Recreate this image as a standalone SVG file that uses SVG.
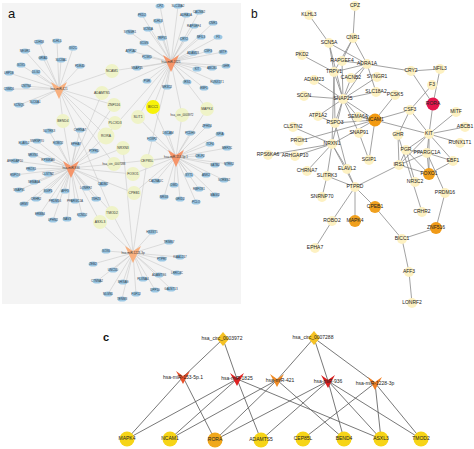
<svg xmlns="http://www.w3.org/2000/svg" width="474" height="449" viewBox="0 0 474 449">
<style>
text{font-family:"Liberation Sans",Arial,sans-serif;}
.pl{font-size:12px;fill:#111;}
.ea{stroke:#c9c9c9;stroke-width:0.6;}
.eb{stroke:#8a8a8a;stroke-width:0.8;}
.ec{stroke:#555;stroke-width:0.8;}
.bn{fill:#9cc7e3;}
.bl{font-size:3px;fill:#2b3a4a;text-anchor:middle;dominant-baseline:middle;}
.gn{fill:#eff3c8;}
.gl{font-size:3.4px;fill:#333;text-anchor:middle;dominant-baseline:middle;}
.hub{fill:#f5956a;}
.hl{font-size:3px;fill:#333;text-anchor:middle;dominant-baseline:middle;}
.nb{fill:#fdf1c2;}
.lb{font-size:5px;fill:#222;text-anchor:middle;dominant-baseline:middle;}
.nc{fill:#f6d417;}
.lc{font-size:5px;fill:#222;text-anchor:middle;dominant-baseline:middle;}
</style>
<defs>
<polygon id="vA" points="-8,-7 0,-2 8,-7 0,10"/>
<polygon id="vC" points="-7,-6 0,-1 7,-6 0,7"/>
<polygon id="dC" points="0,-7 6,0 0,7 -6,0"/>
</defs>
<rect width="474" height="449" fill="#fff"/>
<!-- PANEL A -->
<rect x="2" y="3" width="239" height="301" fill="#f4f4f4"/>
<text class="pl" x="8" y="18" style="font-size:13px">a</text>
<g id="edges-a">
<!-- H1 -->
<line class="ea" x1="171" y1="62" x2="160" y2="6"/><line class="ea" x1="171" y1="62" x2="178" y2="6"/><line class="ea" x1="171" y1="62" x2="142" y2="15"/><line class="ea" x1="171" y1="62" x2="186" y2="15"/><line class="ea" x1="171" y1="62" x2="199" y2="12"/><line class="ea" x1="171" y1="62" x2="158" y2="21"/><line class="ea" x1="171" y1="62" x2="148" y2="29"/><line class="ea" x1="171" y1="62" x2="194" y2="26"/><line class="ea" x1="171" y1="62" x2="213" y2="23"/><line class="ea" x1="171" y1="62" x2="130" y2="32"/><line class="ea" x1="171" y1="62" x2="162" y2="38"/><line class="ea" x1="171" y1="62" x2="184" y2="39"/><line class="ea" x1="171" y1="62" x2="201" y2="37"/><line class="ea" x1="171" y1="62" x2="218" y2="37"/><line class="ea" x1="171" y1="62" x2="144" y2="43"/><line class="ea" x1="171" y1="62" x2="131" y2="51"/><line class="ea" x1="171" y1="62" x2="147" y2="57"/><line class="ea" x1="171" y1="62" x2="193" y2="53"/><line class="ea" x1="171" y1="62" x2="208" y2="51"/><line class="ea" x1="171" y1="62" x2="223" y2="52"/><line class="ea" x1="171" y1="62" x2="137" y2="68"/><line class="ea" x1="171" y1="62" x2="197" y2="69"/><line class="ea" x1="171" y1="62" x2="212" y2="68"/><line class="ea" x1="171" y1="62" x2="226" y2="66"/><line class="ea" x1="171" y1="62" x2="147" y2="81"/><line class="ea" x1="171" y1="62" x2="187" y2="82"/><line class="ea" x1="171" y1="62" x2="204" y2="88"/><line class="ea" x1="171" y1="62" x2="217" y2="82"/><line class="ea" x1="171" y1="62" x2="167" y2="87"/>
<!-- H2 -->
<line class="ea" x1="59" y1="89" x2="39" y2="42"/><line class="ea" x1="59" y1="89" x2="57" y2="41"/><line class="ea" x1="59" y1="89" x2="73" y2="48"/><line class="ea" x1="59" y1="89" x2="25" y2="51"/><line class="ea" x1="59" y1="89" x2="43" y2="58"/><line class="ea" x1="59" y1="89" x2="61" y2="60"/><line class="ea" x1="59" y1="89" x2="21" y2="65"/><line class="ea" x1="59" y1="89" x2="36" y2="72"/><line class="ea" x1="59" y1="89" x2="80" y2="66"/><line class="ea" x1="59" y1="89" x2="9" y2="73"/><line class="ea" x1="59" y1="89" x2="26" y2="86"/><line class="ea" x1="59" y1="89" x2="9" y2="89"/><line class="ea" x1="59" y1="89" x2="35" y2="102"/><line class="ea" x1="59" y1="89" x2="19" y2="105"/>
<!-- H3 -->
<line class="ea" x1="71" y1="168" x2="49" y2="131"/><line class="ea" x1="71" y1="168" x2="80" y2="130"/><line class="ea" x1="71" y1="168" x2="24" y2="143"/><line class="ea" x1="71" y1="168" x2="37" y2="141"/><line class="ea" x1="71" y1="168" x2="58" y2="143"/><line class="ea" x1="71" y1="168" x2="76" y2="144"/><line class="ea" x1="71" y1="168" x2="94" y2="151"/><line class="ea" x1="71" y1="168" x2="33" y2="155"/><line class="ea" x1="71" y1="168" x2="48" y2="160"/><line class="ea" x1="71" y1="168" x2="15" y2="161"/><line class="ea" x1="71" y1="168" x2="31" y2="169"/><line class="ea" x1="71" y1="168" x2="48" y2="174"/><line class="ea" x1="71" y1="168" x2="15" y2="175"/><line class="ea" x1="71" y1="168" x2="34" y2="182"/><line class="ea" x1="71" y1="168" x2="19" y2="190"/><line class="ea" x1="71" y1="168" x2="48" y2="191"/><line class="ea" x1="71" y1="168" x2="65" y2="191"/><line class="ea" x1="71" y1="168" x2="86" y2="188"/><line class="ea" x1="71" y1="168" x2="36" y2="199"/><line class="ea" x1="71" y1="168" x2="55" y2="201"/><line class="ea" x1="71" y1="168" x2="75" y2="201"/><line class="ea" x1="71" y1="168" x2="96" y2="199"/><line class="ea" x1="71" y1="168" x2="24" y2="204"/><line class="ea" x1="71" y1="168" x2="103" y2="184"/><line class="ea" x1="71" y1="168" x2="40" y2="214"/><line class="ea" x1="71" y1="168" x2="53" y2="220"/><line class="ea" x1="71" y1="168" x2="67" y2="219"/><line class="ea" x1="71" y1="168" x2="82" y2="215"/>
<!-- H4 -->
<line class="ea" x1="176" y1="157" x2="152" y2="139"/><line class="ea" x1="176" y1="157" x2="168" y2="133"/><line class="ea" x1="176" y1="157" x2="190" y2="133"/><line class="ea" x1="176" y1="157" x2="207" y2="126"/><line class="ea" x1="176" y1="157" x2="220" y2="134"/><line class="ea" x1="176" y1="157" x2="210" y2="144"/><line class="ea" x1="176" y1="157" x2="227" y2="148"/><line class="ea" x1="176" y1="157" x2="200" y2="156"/><line class="ea" x1="176" y1="157" x2="215" y2="165"/><line class="ea" x1="176" y1="157" x2="229" y2="164"/><line class="ea" x1="176" y1="157" x2="189" y2="175"/><line class="ea" x1="176" y1="157" x2="206" y2="175"/><line class="ea" x1="176" y1="157" x2="224" y2="180"/><line class="ea" x1="176" y1="157" x2="156" y2="181"/><line class="ea" x1="176" y1="157" x2="174" y2="185"/><line class="ea" x1="176" y1="157" x2="199" y2="189"/><line class="ea" x1="176" y1="157" x2="164" y2="197"/><line class="ea" x1="176" y1="157" x2="180" y2="199"/><line class="ea" x1="176" y1="157" x2="196" y2="202"/><line class="ea" x1="176" y1="157" x2="215" y2="195"/>
<!-- H5 -->
<line class="ea" x1="133" y1="253" x2="152" y2="232"/><line class="ea" x1="133" y1="253" x2="169" y2="242"/><line class="ea" x1="133" y1="253" x2="106" y2="251"/><line class="ea" x1="133" y1="253" x2="162" y2="259"/><line class="ea" x1="133" y1="253" x2="180" y2="257"/><line class="ea" x1="133" y1="253" x2="93" y2="264"/><line class="ea" x1="133" y1="253" x2="113" y2="270"/><line class="ea" x1="133" y1="253" x2="159" y2="275"/><line class="ea" x1="133" y1="253" x2="177" y2="273"/><line class="ea" x1="133" y1="253" x2="97" y2="281"/><line class="ea" x1="133" y1="253" x2="123" y2="282"/><line class="ea" x1="133" y1="253" x2="143" y2="279"/><line class="ea" x1="133" y1="253" x2="155" y2="290"/><line class="ea" x1="133" y1="253" x2="108" y2="294"/><line class="ea" x1="133" y1="253" x2="136" y2="294"/><line class="ea" x1="133" y1="253" x2="171" y2="289"/><line class="ea" x1="133" y1="253" x2="122" y2="299"/>
<!-- hub to target genes -->
<line class="ea" x1="171" y1="62" x2="112" y2="71"/><line class="ea" x1="171" y1="62" x2="102" y2="93"/><line class="ea" x1="171" y1="62" x2="138" y2="117"/><line class="ea" x1="171" y1="62" x2="153" y2="107"/><line class="ea" x1="171" y1="62" x2="207" y2="109"/><line class="ea" x1="171" y1="62" x2="106" y2="136"/><line class="ea" x1="171" y1="62" x2="182" y2="115"/><line class="ea" x1="171" y1="62" x2="147" y2="161"/>
<line class="ea" x1="59" y1="89" x2="112" y2="71"/><line class="ea" x1="59" y1="89" x2="63" y2="121"/><line class="ea" x1="59" y1="89" x2="106" y2="136"/><line class="ea" x1="59" y1="89" x2="115" y2="123"/><line class="ea" x1="59" y1="89" x2="114" y2="105"/><line class="ea" x1="59" y1="89" x2="112" y2="213"/><line class="ea" x1="59" y1="89" x2="114" y2="164"/>
<line class="ea" x1="71" y1="168" x2="106" y2="136"/><line class="ea" x1="71" y1="168" x2="123" y2="148"/><line class="ea" x1="71" y1="168" x2="114" y2="164"/><line class="ea" x1="71" y1="168" x2="133" y2="174"/><line class="ea" x1="71" y1="168" x2="134" y2="193"/><line class="ea" x1="71" y1="168" x2="112" y2="213"/><line class="ea" x1="71" y1="168" x2="100" y2="222"/><line class="ea" x1="71" y1="168" x2="102" y2="93"/><line class="ea" x1="71" y1="168" x2="63" y2="121"/><line class="ea" x1="71" y1="168" x2="114" y2="105"/>
<line class="ea" x1="176" y1="157" x2="147" y2="161"/><line class="ea" x1="176" y1="157" x2="133" y2="174"/><line class="ea" x1="176" y1="157" x2="134" y2="193"/><line class="ea" x1="176" y1="157" x2="114" y2="164"/><line class="ea" x1="176" y1="157" x2="182" y2="115"/><line class="ea" x1="176" y1="157" x2="153" y2="107"/><line class="ea" x1="176" y1="157" x2="207" y2="109"/><line class="ea" x1="176" y1="157" x2="138" y2="117"/>
<line class="ea" x1="133" y1="253" x2="100" y2="222"/><line class="ea" x1="133" y1="253" x2="112" y2="213"/><line class="ea" x1="133" y1="253" x2="147" y2="161"/><line class="ea" x1="133" y1="253" x2="123" y2="148"/>
</g>
<g id="nodes-a-targets">
<g id="a-NCAM1"><circle class="gn" cx="112" cy="71" r="7"/><text class="gl" x="112" y="71">NCAM1</text></g>
<g id="a-ADAMTS5"><circle class="gn" cx="102" cy="93" r="7"/><text class="gl" x="102" y="93">ADAMTS5</text></g>
<g id="a-ZNF516"><circle class="gn" cx="114" cy="105" r="7"/><text class="gl" x="114" y="105">ZNF516</text></g>
<g id="a-BICC1"><circle cx="153" cy="107" r="7" fill="#f7f20a"/><text class="gl" x="153" y="107">BICC1</text></g>
<g id="a-BEND4"><circle class="gn" cx="63" cy="121" r="7"/><text class="gl" x="63" y="121">BEND4</text></g>
<g id="a-PLCXD3"><circle class="gn" cx="115" cy="123" r="7"/><text class="gl" x="115" y="123">PLCXD3</text></g>
<g id="a-SLIT1"><circle class="gn" cx="138" cy="117" r="7"/><text class="gl" x="138" y="117">SLIT1</text></g>
<g id="a-circ3972"><circle class="gn" cx="182" cy="115" r="7"/><text class="gl" x="182" y="115" style="font-size:2.8px">hsa_circ_0003972</text></g>
<g id="a-MAPK4"><circle class="gn" cx="207" cy="109" r="7"/><text class="gl" x="207" y="109">MAPK4</text></g>
<g id="a-RORA"><circle class="gn" cx="106" cy="136" r="8.5"/><text class="gl" x="106" y="136">RORA</text></g>
<g id="a-NRXN3"><circle class="gn" cx="123" cy="148" r="7"/><text class="gl" x="123" y="148">NRXN3</text></g>
<g id="a-circ7288"><circle class="gn" cx="114" cy="164" r="7"/><text class="gl" x="114" y="164" style="font-size:2.8px">hsa_circ_0007288</text></g>
<g id="a-CEP85L"><circle class="gn" cx="147" cy="161" r="7"/><text class="gl" x="147" y="161">CEP85L</text></g>
<g id="a-FOXO1"><circle class="gn" cx="133" cy="174" r="7"/><text class="gl" x="133" y="174">FOXO1</text></g>
<g id="a-CPEB1"><circle class="gn" cx="134" cy="193" r="7"/><text class="gl" x="134" y="193">CPEB1</text></g>
<g id="a-TMOD2"><circle class="gn" cx="112" cy="213" r="7"/><text class="gl" x="112" y="213">TMOD2</text></g>
<g id="a-ASXL3"><circle class="gn" cx="100" cy="222" r="7"/><text class="gl" x="100" y="222">ASXL3</text></g>
</g>
<g id="nodes-a-genes">
<g id="a1"><ellipse class="bn" cx="160" cy="6" rx="4.5" ry="2.6"/><text class="bl" x="160" y="6">CPZ</text></g>
<g id="a2"><ellipse class="bn" cx="178" cy="6" rx="4.5" ry="2.6"/><text class="bl" x="178" y="6">SLC18A2</text></g>
<g id="a3"><ellipse class="bn" cx="142" cy="15" rx="4.5" ry="2.6"/><text class="bl" x="142" y="15">PKD2</text></g>
<g id="a4"><ellipse class="bn" cx="186" cy="15" rx="4.5" ry="2.6"/><text class="bl" x="186" y="15">ADRA1A</text></g>
<g id="a5"><ellipse class="bn" cx="199" cy="12" rx="4.5" ry="2.6"/><text class="bl" x="199" y="12">CACNB2</text></g>
<g id="a6"><ellipse class="bn" cx="158" cy="21" rx="4.5" ry="2.6"/><text class="bl" x="158" y="21">KLHL3</text></g>
<g id="a7"><ellipse class="bn" cx="148" cy="29" rx="4.5" ry="2.6"/><text class="bl" x="148" y="29">SCN5A</text></g>
<g id="a8"><ellipse class="bn" cx="194" cy="26" rx="4.5" ry="2.6"/><text class="bl" x="194" y="26">RAPGEF4</text></g>
<g id="a9"><ellipse class="bn" cx="213" cy="23" rx="4.5" ry="2.6"/><text class="bl" x="213" y="23">CNR1</text></g>
<g id="a10"><ellipse class="bn" cx="130" cy="32" rx="4.5" ry="2.6"/><text class="bl" x="130" y="32">SYNGR1</text></g>
<g id="a11"><ellipse class="bn" cx="162" cy="38" rx="4.5" ry="2.6"/><text class="bl" x="162" y="38">TRPV1</text></g>
<g id="a12"><ellipse class="bn" cx="184" cy="39" rx="4.5" ry="2.6"/><text class="bl" x="184" y="39">CRY2</text></g>
<g id="a13"><ellipse class="bn" cx="201" cy="37" rx="4.5" ry="2.6"/><text class="bl" x="201" y="37">NFIL3</text></g>
<g id="a14"><ellipse class="bn" cx="218" cy="37" rx="4.5" ry="2.6"/><text class="bl" x="218" y="37">F3</text></g>
<g id="a15"><ellipse class="bn" cx="144" cy="43" rx="4.5" ry="2.6"/><text class="bl" x="144" y="43">SCGN</text></g>
<g id="a16"><ellipse class="bn" cx="131" cy="51" rx="4.5" ry="2.6"/><text class="bl" x="131" y="51">ATP1A2</text></g>
<g id="a17"><ellipse class="bn" cx="147" cy="57" rx="4.5" ry="2.6"/><text class="bl" x="147" y="57">PCSK5</text></g>
<g id="a18"><ellipse class="bn" cx="193" cy="53" rx="4.5" ry="2.6"/><text class="bl" x="193" y="53">ADAM23</text></g>
<g id="a19"><ellipse class="bn" cx="208" cy="51" rx="4.5" ry="2.6"/><text class="bl" x="208" y="51">CSF3</text></g>
<g id="a20"><ellipse class="bn" cx="223" cy="52" rx="4.5" ry="2.6"/><text class="bl" x="223" y="52">MITF</text></g>
<g id="a21"><ellipse class="bn" cx="137" cy="68" rx="4.5" ry="2.6"/><text class="bl" x="137" y="68">SNAP25</text></g>
<g id="a22"><ellipse class="bn" cx="197" cy="69" rx="4.5" ry="2.6"/><text class="bl" x="197" y="69">KIT</text></g>
<g id="a23"><ellipse class="bn" cx="212" cy="68" rx="4.5" ry="2.6"/><text class="bl" x="212" y="68">ABCB1</text></g>
<g id="a24"><ellipse class="bn" cx="226" cy="66" rx="4.5" ry="2.6"/><text class="bl" x="226" y="66">GHR</text></g>
<g id="a25"><ellipse class="bn" cx="147" cy="81" rx="4.5" ry="2.6"/><text class="bl" x="147" y="81">PGR</text></g>
<g id="a26"><ellipse class="bn" cx="187" cy="82" rx="4.5" ry="2.6"/><text class="bl" x="187" y="82">IRS1</text></g>
<g id="a27"><ellipse class="bn" cx="204" cy="88" rx="4.5" ry="2.6"/><text class="bl" x="204" y="88">EBF1</text></g>
<g id="a28"><ellipse class="bn" cx="217" cy="82" rx="4.5" ry="2.6"/><text class="bl" x="217" y="82">RUNX1T1</text></g>
<g id="a29"><ellipse class="bn" cx="167" cy="87" rx="4.5" ry="2.6"/><text class="bl" x="167" y="87">NR3C2</text></g>
<g id="a30"><ellipse class="bn" cx="39" cy="42" rx="4.5" ry="2.6"/><text class="bl" x="39" y="42">CDH18</text></g>
<g id="a31"><ellipse class="bn" cx="57" cy="41" rx="4.5" ry="2.6"/><text class="bl" x="57" y="41">KLHL1</text></g>
<g id="a32"><ellipse class="bn" cx="73" cy="48" rx="4.5" ry="2.6"/><text class="bl" x="73" y="48">SV2C</text></g>
<g id="a33"><ellipse class="bn" cx="25" cy="51" rx="4.5" ry="2.6"/><text class="bl" x="25" y="51">NEGR1</text></g>
<g id="a34"><ellipse class="bn" cx="43" cy="58" rx="4.5" ry="2.6"/><text class="bl" x="43" y="58">GRIA1</text></g>
<g id="a35"><ellipse class="bn" cx="61" cy="60" rx="4.5" ry="2.6"/><text class="bl" x="61" y="60">SLC8A1</text></g>
<g id="a36"><ellipse class="bn" cx="21" cy="65" rx="4.5" ry="2.6"/><text class="bl" x="21" y="65">SOX5</text></g>
<g id="a37"><ellipse class="bn" cx="36" cy="72" rx="4.5" ry="2.6"/><text class="bl" x="36" y="72">DLG2</text></g>
<g id="a38"><ellipse class="bn" cx="80" cy="66" rx="4.5" ry="2.6"/><text class="bl" x="80" y="66">PDE4D</text></g>
<g id="a39"><ellipse class="bn" cx="9" cy="73" rx="4.5" ry="2.6"/><text class="bl" x="9" y="73">LRP1B</text></g>
<g id="a40"><ellipse class="bn" cx="26" cy="86" rx="4.5" ry="2.6"/><text class="bl" x="26" y="86">CNTN4</text></g>
<g id="a41"><ellipse class="bn" cx="9" cy="89" rx="4.5" ry="2.6"/><text class="bl" x="9" y="89">CSMD1</text></g>
<g id="a42"><ellipse class="bn" cx="35" cy="102" rx="4.5" ry="2.6"/><text class="bl" x="35" y="102">SLC6A1</text></g>
<g id="a43"><ellipse class="bn" cx="19" cy="105" rx="4.5" ry="2.6"/><text class="bl" x="19" y="105">KCNQ5</text></g>
<g id="a44"><ellipse class="bn" cx="49" cy="131" rx="4.5" ry="2.6"/><text class="bl" x="49" y="131">SLITRK3</text></g>
<g id="a45"><ellipse class="bn" cx="80" cy="130" rx="4.5" ry="2.6"/><text class="bl" x="80" y="130">CHRNA7</text></g>
<g id="a46"><ellipse class="bn" cx="24" cy="143" rx="4.5" ry="2.6"/><text class="bl" x="24" y="143">ELAVL2</text></g>
<g id="a47"><ellipse class="bn" cx="37" cy="141" rx="4.5" ry="2.6"/><text class="bl" x="37" y="141">SNRNP70</text></g>
<g id="a48"><ellipse class="bn" cx="58" cy="143" rx="4.5" ry="2.6"/><text class="bl" x="58" y="143">ROBO2</text></g>
<g id="a49"><ellipse class="bn" cx="76" cy="144" rx="4.5" ry="2.6"/><text class="bl" x="76" y="144">EPHA7</text></g>
<g id="a50"><ellipse class="bn" cx="94" cy="151" rx="4.5" ry="2.6"/><text class="bl" x="94" y="151">PTPRD</text></g>
<g id="a51"><ellipse class="bn" cx="33" cy="155" rx="4.5" ry="2.6"/><text class="bl" x="33" y="155">NRXN1</text></g>
<g id="a52"><ellipse class="bn" cx="48" cy="160" rx="4.5" ry="2.6"/><text class="bl" x="48" y="160">RPS6KA6</text></g>
<g id="a53"><ellipse class="bn" cx="15" cy="161" rx="4.5" ry="2.6"/><text class="bl" x="15" y="161">ARHGAP10</text></g>
<g id="a54"><ellipse class="bn" cx="31" cy="169" rx="4.5" ry="2.6"/><text class="bl" x="31" y="169">PROX1</text></g>
<g id="a55"><ellipse class="bn" cx="48" cy="174" rx="4.5" ry="2.6"/><text class="bl" x="48" y="174">CLSTN2</text></g>
<g id="a56"><ellipse class="bn" cx="15" cy="175" rx="4.5" ry="2.6"/><text class="bl" x="15" y="175">RSPO3</text></g>
<g id="a57"><ellipse class="bn" cx="34" cy="182" rx="4.5" ry="2.6"/><text class="bl" x="34" y="182">SEMA6A</text></g>
<g id="a58"><ellipse class="bn" cx="19" cy="190" rx="4.5" ry="2.6"/><text class="bl" x="19" y="190">SNAP91</text></g>
<g id="a59"><ellipse class="bn" cx="48" cy="191" rx="4.5" ry="2.6"/><text class="bl" x="48" y="191">SGIP1</text></g>
<g id="a60"><ellipse class="bn" cx="65" cy="191" rx="4.5" ry="2.6"/><text class="bl" x="65" y="191">AFF3</text></g>
<g id="a61"><ellipse class="bn" cx="86" cy="188" rx="4.5" ry="2.6"/><text class="bl" x="86" y="188">LONRF2</text></g>
<g id="a62"><ellipse class="bn" cx="36" cy="199" rx="4.5" ry="2.6"/><text class="bl" x="36" y="199">CRHR2</text></g>
<g id="a63"><ellipse class="bn" cx="55" cy="201" rx="4.5" ry="2.6"/><text class="bl" x="55" y="201">PRDM16</text></g>
<g id="a64"><ellipse class="bn" cx="75" cy="201" rx="4.5" ry="2.6"/><text class="bl" x="75" y="201">PPARGC1A</text></g>
<g id="a65"><ellipse class="bn" cx="96" cy="199" rx="4.5" ry="2.6"/><text class="bl" x="96" y="199">TSHZ3</text></g>
<g id="a66"><ellipse class="bn" cx="24" cy="204" rx="4.5" ry="2.6"/><text class="bl" x="24" y="204">GRM7</text></g>
<g id="a67"><ellipse class="bn" cx="103" cy="184" rx="4.5" ry="2.6"/><text class="bl" x="103" y="184">CADM2</text></g>
<g id="a68"><ellipse class="bn" cx="40" cy="214" rx="4.5" ry="2.6"/><text class="bl" x="40" y="214">ERBB4</text></g>
<g id="a69"><ellipse class="bn" cx="53" cy="220" rx="4.5" ry="2.6"/><text class="bl" x="53" y="220">LPHN2</text></g>
<g id="a70"><ellipse class="bn" cx="67" cy="219" rx="4.5" ry="2.6"/><text class="bl" x="67" y="219">NAV3</text></g>
<g id="a71"><ellipse class="bn" cx="82" cy="215" rx="4.5" ry="2.6"/><text class="bl" x="82" y="215">KCND2</text></g>
<g id="a72"><ellipse class="bn" cx="152" cy="139" rx="4.5" ry="2.6"/><text class="bl" x="152" y="139">FOXP2</text></g>
<g id="a73"><ellipse class="bn" cx="168" cy="133" rx="4.5" ry="2.6"/><text class="bl" x="168" y="133">DSCAM</text></g>
<g id="a74"><ellipse class="bn" cx="190" cy="133" rx="4.5" ry="2.6"/><text class="bl" x="190" y="133">PCDH9</text></g>
<g id="a75"><ellipse class="bn" cx="207" cy="126" rx="4.5" ry="2.6"/><text class="bl" x="207" y="126">ZFHX4</text></g>
<g id="a76"><ellipse class="bn" cx="220" cy="134" rx="4.5" ry="2.6"/><text class="bl" x="220" y="134">NFIA</text></g>
<g id="a77"><ellipse class="bn" cx="210" cy="144" rx="4.5" ry="2.6"/><text class="bl" x="210" y="144">TCF4</text></g>
<g id="a78"><ellipse class="bn" cx="227" cy="148" rx="4.5" ry="2.6"/><text class="bl" x="227" y="148">MEF2C</text></g>
<g id="a79"><ellipse class="bn" cx="200" cy="156" rx="4.5" ry="2.6"/><text class="bl" x="200" y="156">CELF2</text></g>
<g id="a80"><ellipse class="bn" cx="215" cy="165" rx="4.5" ry="2.6"/><text class="bl" x="215" y="165">SATB2</text></g>
<g id="a81"><ellipse class="bn" cx="229" cy="164" rx="4.5" ry="2.6"/><text class="bl" x="229" y="164">NTRK2</text></g>
<g id="a82"><ellipse class="bn" cx="189" cy="175" rx="4.5" ry="2.6"/><text class="bl" x="189" y="175">SYT1</text></g>
<g id="a83"><ellipse class="bn" cx="206" cy="175" rx="4.5" ry="2.6"/><text class="bl" x="206" y="175">ANK2</text></g>
<g id="a84"><ellipse class="bn" cx="224" cy="180" rx="4.5" ry="2.6"/><text class="bl" x="224" y="180">SORBS2</text></g>
<g id="a85"><ellipse class="bn" cx="156" cy="181" rx="4.5" ry="2.6"/><text class="bl" x="156" y="181">CACNA1C</text></g>
<g id="a86"><ellipse class="bn" cx="174" cy="185" rx="4.5" ry="2.6"/><text class="bl" x="174" y="185">DMD</text></g>
<g id="a87"><ellipse class="bn" cx="199" cy="189" rx="4.5" ry="2.6"/><text class="bl" x="199" y="189">RBFOX1</text></g>
<g id="a88"><ellipse class="bn" cx="164" cy="197" rx="4.5" ry="2.6"/><text class="bl" x="164" y="197">NRG3</text></g>
<g id="a89"><ellipse class="bn" cx="180" cy="199" rx="4.5" ry="2.6"/><text class="bl" x="180" y="199">GRID2</text></g>
<g id="a90"><ellipse class="bn" cx="196" cy="202" rx="4.5" ry="2.6"/><text class="bl" x="196" y="202">PCLO</text></g>
<g id="a91"><ellipse class="bn" cx="215" cy="195" rx="4.5" ry="2.6"/><text class="bl" x="215" y="195">MAGI2</text></g>
<g id="a92"><ellipse class="bn" cx="152" cy="232" rx="4.5" ry="2.6"/><text class="bl" x="152" y="232">HS3ST5</text></g>
<g id="a93"><ellipse class="bn" cx="169" cy="242" rx="4.5" ry="2.6"/><text class="bl" x="169" y="242">TRIM67</text></g>
<g id="a94"><ellipse class="bn" cx="106" cy="251" rx="4.5" ry="2.6"/><text class="bl" x="106" y="251">SOX6</text></g>
<g id="a95"><ellipse class="bn" cx="162" cy="259" rx="4.5" ry="2.6"/><text class="bl" x="162" y="259">PTPRT</text></g>
<g id="a96"><ellipse class="bn" cx="180" cy="257" rx="4.5" ry="2.6"/><text class="bl" x="180" y="257">KIAA1217</text></g>
<g id="a97"><ellipse class="bn" cx="93" cy="264" rx="4.5" ry="2.6"/><text class="bl" x="93" y="264">ZEB2</text></g>
<g id="a98"><ellipse class="bn" cx="113" cy="270" rx="4.5" ry="2.6"/><text class="bl" x="113" y="270">UNC5D</text></g>
<g id="a99"><ellipse class="bn" cx="159" cy="275" rx="4.5" ry="2.6"/><text class="bl" x="159" y="275">ADAMTS6</text></g>
<g id="a100"><ellipse class="bn" cx="177" cy="273" rx="4.5" ry="2.6"/><text class="bl" x="177" y="273">LRRC4C</text></g>
<g id="a101"><ellipse class="bn" cx="97" cy="281" rx="4.5" ry="2.6"/><text class="bl" x="97" y="281">CTNNA2</text></g>
<g id="a102"><ellipse class="bn" cx="123" cy="282" rx="4.5" ry="2.6"/><text class="bl" x="123" y="282">SHISA9</text></g>
<g id="a103"><ellipse class="bn" cx="143" cy="279" rx="4.5" ry="2.6"/><text class="bl" x="143" y="279">PLXNA4</text></g>
<g id="a104"><ellipse class="bn" cx="155" cy="290" rx="4.5" ry="2.6"/><text class="bl" x="155" y="290">DPP10</text></g>
<g id="a105"><ellipse class="bn" cx="108" cy="294" rx="4.5" ry="2.6"/><text class="bl" x="108" y="294">NLGN1</text></g>
<g id="a106"><ellipse class="bn" cx="136" cy="294" rx="4.5" ry="2.6"/><text class="bl" x="136" y="294">FGF12</text></g>
<g id="a107"><ellipse class="bn" cx="171" cy="289" rx="4.5" ry="2.6"/><text class="bl" x="171" y="289">GALNT13</text></g>
<g id="a108"><ellipse class="bn" cx="122" cy="299" rx="4.5" ry="2.6"/><text class="bl" x="122" y="299">TENM3</text></g>
</g>
<g id="nodes-a-hubs">
<g id="a-h1"><use href="#vA" class="hub" x="171" y="62"/><text class="hl" x="171" y="62">hsa-miR-1825</text></g>
<g id="a-h2"><use href="#vA" class="hub" x="59" y="89" style="fill:#f8b07f"/><text class="hl" x="59" y="89">hsa-miR-421</text></g>
<g id="a-h3"><use href="#vA" class="hub" x="71" y="168"/><text class="hl" x="71" y="168">hsa-miR-936</text></g>
<g id="a-h4"><use href="#vA" class="hub" x="176" y="157"/><text class="hl" x="176" y="157">hsa-miR-153-5p.1</text></g>
<g id="a-h5"><use href="#vA" class="hub" x="133" y="253" style="fill:#f8b07f"/><text class="hl" x="133" y="253">hsa-miR-1228-3p</text></g>
</g>

<!-- PANEL B -->
<text class="pl" x="251" y="18">b</text>
<g id="edges-b">
<line class="eb" x1="355" y1="6" x2="353" y2="38"/><line class="eb" x1="309" y1="15" x2="329" y2="43"/><line class="eb" x1="353" y1="38" x2="342" y2="61"/><line class="eb" x1="353" y1="38" x2="367" y2="64"/><line class="eb" x1="353" y1="38" x2="334" y2="72"/><line class="eb" x1="329" y1="43" x2="334" y2="72"/><line class="eb" x1="329" y1="43" x2="367" y2="64"/><line class="eb" x1="329" y1="43" x2="343" y2="99"/><line class="eb" x1="302" y1="55" x2="334" y2="72"/><line class="eb" x1="342" y1="61" x2="367" y2="64"/><line class="eb" x1="342" y1="61" x2="343" y2="99"/><line class="eb" x1="367" y1="64" x2="334" y2="72"/><line class="eb" x1="367" y1="64" x2="351" y2="78"/><line class="eb" x1="367" y1="64" x2="411" y2="71"/><line class="eb" x1="367" y1="64" x2="343" y2="99"/><line class="eb" x1="367" y1="64" x2="376" y2="92"/><line class="eb" x1="411" y1="71" x2="440" y2="69"/><line class="eb" x1="411" y1="71" x2="433" y2="104"/><line class="eb" x1="440" y1="69" x2="433" y2="104"/><line class="eb" x1="334" y1="72" x2="343" y2="99"/><line class="eb" x1="334" y1="72" x2="335" y2="123"/><line class="eb" x1="334" y1="72" x2="332" y2="144"/><line class="eb" x1="314" y1="80" x2="343" y2="99"/><line class="eb" x1="351" y1="78" x2="343" y2="99"/><line class="eb" x1="377" y1="77" x2="343" y2="99"/><line class="eb" x1="376" y1="92" x2="343" y2="99"/><line class="eb" x1="304" y1="96" x2="343" y2="99"/><line class="eb" x1="343" y1="99" x2="318" y2="116"/><line class="eb" x1="343" y1="99" x2="335" y2="123"/><line class="eb" x1="343" y1="99" x2="332" y2="144"/><line class="eb" x1="343" y1="99" x2="358" y2="117"/><line class="eb" x1="343" y1="99" x2="359" y2="133"/><line class="eb" x1="343" y1="99" x2="375" y2="120"/><line class="eb" x1="395" y1="95" x2="375" y2="120"/><line class="eb" x1="432" y1="85" x2="410" y2="110"/><line class="eb" x1="410" y1="110" x2="375" y2="120"/><line class="eb" x1="410" y1="110" x2="429" y2="134"/><line class="eb" x1="410" y1="110" x2="398" y2="135"/><line class="eb" x1="433" y1="104" x2="429" y2="134"/><line class="eb" x1="456" y1="112" x2="429" y2="134"/><line class="eb" x1="465" y1="127" x2="429" y2="134"/><line class="eb" x1="460" y1="143" x2="429" y2="134"/><line class="eb" x1="375" y1="120" x2="429" y2="134"/><line class="eb" x1="375" y1="120" x2="335" y2="123"/><line class="eb" x1="375" y1="120" x2="358" y2="117"/><line class="eb" x1="375" y1="120" x2="369" y2="160"/><line class="eb" x1="375" y1="120" x2="332" y2="144"/><line class="eb" x1="375" y1="120" x2="299" y2="141"/><line class="eb" x1="318" y1="116" x2="335" y2="123"/><line class="eb" x1="293" y1="127" x2="332" y2="144"/><line class="eb" x1="335" y1="123" x2="347" y2="169"/><line class="eb" x1="359" y1="133" x2="369" y2="160"/><line class="eb" x1="332" y1="144" x2="268" y2="155"/><line class="eb" x1="332" y1="144" x2="295" y2="156"/><line class="eb" x1="332" y1="144" x2="307" y2="171"/><line class="eb" x1="332" y1="144" x2="327" y2="176"/><line class="eb" x1="332" y1="144" x2="347" y2="169"/><line class="eb" x1="332" y1="144" x2="355" y2="187"/><line class="eb" x1="398" y1="135" x2="399" y2="165"/><line class="eb" x1="429" y1="134" x2="406" y2="150"/><line class="eb" x1="429" y1="134" x2="427" y2="153"/><line class="eb" x1="429" y1="134" x2="429" y2="174"/><line class="eb" x1="429" y1="134" x2="453" y2="161"/><line class="eb" x1="429" y1="134" x2="399" y2="165"/><line class="eb" x1="406" y1="150" x2="427" y2="153"/><line class="eb" x1="406" y1="150" x2="429" y2="174"/><line class="eb" x1="406" y1="150" x2="399" y2="165"/><line class="eb" x1="427" y1="153" x2="429" y2="174"/><line class="eb" x1="427" y1="153" x2="453" y2="161"/><line class="eb" x1="427" y1="153" x2="445" y2="193"/><line class="eb" x1="427" y1="153" x2="399" y2="165"/><line class="eb" x1="453" y1="161" x2="429" y2="174"/><line class="eb" x1="399" y1="165" x2="429" y2="174"/><line class="eb" x1="399" y1="165" x2="355" y2="187"/><line class="eb" x1="415" y1="182" x2="406" y2="150"/><line class="eb" x1="422" y1="212" x2="398" y2="135"/><line class="eb" x1="445" y1="193" x2="436" y2="228"/><line class="eb" x1="436" y1="228" x2="402" y2="239"/><line class="eb" x1="402" y1="239" x2="375" y2="207"/><line class="eb" x1="375" y1="207" x2="355" y2="187"/><line class="eb" x1="402" y1="239" x2="409" y2="272"/><line class="eb" x1="409" y1="272" x2="412" y2="303"/><line class="eb" x1="355" y1="187" x2="327" y2="176"/><line class="eb" x1="355" y1="187" x2="347" y2="169"/><line class="eb" x1="355" y1="187" x2="355" y2="221"/><line class="eb" x1="355" y1="187" x2="332" y2="221"/><line class="eb" x1="332" y1="221" x2="315" y2="248"/><line class="eb" x1="327" y1="176" x2="322" y2="197"/>
</g>
<g id="nodes-b">
<g id="b-CPZ"><circle class="nb" cx="355" cy="6" r="5"/><text class="lb" x="355" y="6">CPZ</text></g>
<g id="b-KLHL3"><circle class="nb" cx="309" cy="15" r="5"/><text class="lb" x="309" y="15">KLHL3</text></g>
<g id="b-CNR1"><circle class="nb" cx="353" cy="38" r="5"/><text class="lb" x="353" y="38">CNR1</text></g>
<g id="b-SCN5A"><circle class="nb" cx="329" cy="43" r="5"/><text class="lb" x="329" y="43">SCN5A</text></g>
<g id="b-PKD2"><circle class="nb" cx="302" cy="55" r="5"/><text class="lb" x="302" y="55">PKD2</text></g>
<g id="b-RAPGEF4"><circle class="nb" cx="342" cy="61" r="5"/><text class="lb" x="342" y="61">RAPGEF4</text></g>
<g id="b-ADRA1A"><circle class="nb" cx="367" cy="64" r="5"/><text class="lb" x="367" y="64">ADRA1A</text></g>
<g id="b-TRPV1"><circle class="nb" cx="334" cy="72" r="5"/><text class="lb" x="334" y="72">TRPV1</text></g>
<g id="b-CRY2"><circle class="nb" cx="411" cy="71" r="5"/><text class="lb" x="411" y="71">CRY2</text></g>
<g id="b-NFIL3"><circle class="nb" cx="440" cy="69" r="5"/><text class="lb" x="440" y="69">NFIL3</text></g>
<g id="b-ADAM23"><circle class="nb" cx="314" cy="80" r="5"/><text class="lb" x="314" y="80">ADAM23</text></g>
<g id="b-CACNB2"><circle class="nb" cx="351" cy="78" r="5"/><text class="lb" x="351" y="78">CACNB2</text></g>
<g id="b-SYNGR1"><circle class="nb" cx="377" cy="77" r="5"/><text class="lb" x="377" y="77">SYNGR1</text></g>
<g id="b-F3"><circle class="nb" cx="432" cy="85" r="5"/><text class="lb" x="432" y="85">F3</text></g>
<g id="b-SLC18A2"><circle class="nb" cx="376" cy="92" r="5"/><text class="lb" x="376" y="92">SLC18A2</text></g>
<g id="b-SCGN"><circle class="nb" cx="304" cy="96" r="5"/><text class="lb" x="304" y="96">SCGN</text></g>
<g id="b-SNAP25"><circle class="nb" cx="343" cy="99" r="5"/><text class="lb" x="343" y="99">SNAP25</text></g>
<g id="b-PCSK5"><circle class="nb" cx="395" cy="95" r="5"/><text class="lb" x="395" y="95">PCSK5</text></g>
<g id="b-RORA"><circle cx="433" cy="104" r="6.5" fill="#e5164c"/><text class="lb" x="433" y="104">RORA</text></g>
<g id="b-CSF3"><circle class="nb" cx="410" cy="110" r="5"/><text class="lb" x="410" y="110">CSF3</text></g>
<g id="b-MITF"><circle class="nb" cx="456" cy="112" r="5"/><text class="lb" x="456" y="112">MITF</text></g>
<g id="b-ATP1A2"><circle class="nb" cx="318" cy="116" r="5"/><text class="lb" x="318" y="116">ATP1A2</text></g>
<g id="b-SEMA6A"><circle class="nb" cx="358" cy="117" r="5"/><text class="lb" x="358" y="117">SEMA6A</text></g>
<g id="b-NCAM1"><circle cx="375" cy="120" r="6.5" fill="#f29a12"/><text class="lb" x="375" y="120">NCAM1</text></g>
<g id="b-RSPO3"><circle class="nb" cx="335" cy="123" r="5"/><text class="lb" x="335" y="123">RSPO3</text></g>
<g id="b-ABCB1"><circle class="nb" cx="465" cy="127" r="5"/><text class="lb" x="465" y="127">ABCB1</text></g>
<g id="b-CLSTN2"><circle class="nb" cx="293" cy="127" r="5"/><text class="lb" x="293" y="127">CLSTN2</text></g>
<g id="b-SNAP91"><circle class="nb" cx="359" cy="133" r="5"/><text class="lb" x="359" y="133">SNAP91</text></g>
<g id="b-GHR"><circle class="nb" cx="398" cy="135" r="5"/><text class="lb" x="398" y="135">GHR</text></g>
<g id="b-KIT"><circle class="nb" cx="429" cy="134" r="5"/><text class="lb" x="429" y="134">KIT</text></g>
<g id="b-PROX1"><circle class="nb" cx="299" cy="141" r="5"/><text class="lb" x="299" y="141">PROX1</text></g>
<g id="b-RUNX1T1"><circle class="nb" cx="460" cy="143" r="5"/><text class="lb" x="460" y="143">RUNX1T1</text></g>
<g id="b-NRXN1"><circle class="nb" cx="332" cy="144" r="5"/><text class="lb" x="332" y="144">NRXN1</text></g>
<g id="b-RPS6KA6"><circle class="nb" cx="268" cy="155" r="5"/><text class="lb" x="268" y="155">RPS6KA6</text></g>
<g id="b-ARHGAP10"><circle class="nb" cx="295" cy="156" r="5"/><text class="lb" x="295" y="156">ARHGAP10</text></g>
<g id="b-SGIP1"><circle class="nb" cx="369" cy="160" r="5"/><text class="lb" x="369" y="160">SGIP1</text></g>
<g id="b-PGR"><circle class="nb" cx="406" cy="150" r="5"/><text class="lb" x="406" y="150">PGR</text></g>
<g id="b-PPARGC1A"><circle class="nb" cx="427" cy="153" r="5"/><text class="lb" x="427" y="153">PPARGC1A</text></g>
<g id="b-EBF1"><circle class="nb" cx="453" cy="161" r="5"/><text class="lb" x="453" y="161">EBF1</text></g>
<g id="b-IRS1"><circle class="nb" cx="399" cy="165" r="5"/><text class="lb" x="399" y="165">IRS1</text></g>
<g id="b-CHRNA7"><circle class="nb" cx="307" cy="171" r="5"/><text class="lb" x="307" y="171">CHRNA7</text></g>
<g id="b-ELAVL2"><circle class="nb" cx="347" cy="169" r="5"/><text class="lb" x="347" y="169">ELAVL2</text></g>
<g id="b-FOXO1"><circle cx="429" cy="174" r="6" fill="#f0a01e"/><text class="lb" x="429" y="174">FOXO1</text></g>
<g id="b-SLITRK3"><circle class="nb" cx="327" cy="176" r="5"/><text class="lb" x="327" y="176">SLITRK3</text></g>
<g id="b-NR3C2"><circle class="nb" cx="415" cy="182" r="5"/><text class="lb" x="415" y="182">NR3C2</text></g>
<g id="b-PTPRD"><circle class="nb" cx="355" cy="187" r="5"/><text class="lb" x="355" y="187">PTPRD</text></g>
<g id="b-PRDM16"><circle class="nb" cx="445" cy="193" r="5"/><text class="lb" x="445" y="193">PRDM16</text></g>
<g id="b-SNRNP70"><circle class="nb" cx="322" cy="197" r="5"/><text class="lb" x="322" y="197">SNRNP70</text></g>
<g id="b-CPEB1"><circle cx="375" cy="207" r="6" fill="#f0a01e"/><text class="lb" x="375" y="207">CPEB1</text></g>
<g id="b-CRHR2"><circle class="nb" cx="422" cy="212" r="5"/><text class="lb" x="422" y="212">CRHR2</text></g>
<g id="b-ROBO2"><circle class="nb" cx="332" cy="221" r="5"/><text class="lb" x="332" y="221">ROBO2</text></g>
<g id="b-MAPK4"><circle cx="355" cy="221" r="6" fill="#f0a01e"/><text class="lb" x="355" y="221">MAPK4</text></g>
<g id="b-ZNF516"><circle cx="436" cy="228" r="6" fill="#f09a18"/><text class="lb" x="436" y="228">ZNF516</text></g>
<g id="b-BICC1"><circle class="nb" cx="402" cy="239" r="5"/><text class="lb" x="402" y="239">BICC1</text></g>
<g id="b-EPHA7"><circle class="nb" cx="315" cy="248" r="5"/><text class="lb" x="315" y="248">EPHA7</text></g>
<g id="b-AFF3"><circle class="nb" cx="409" cy="272" r="5"/><text class="lb" x="409" y="272">AFF3</text></g>
<g id="b-LONRF2"><circle class="nb" cx="412" cy="303" r="5"/><text class="lb" x="412" y="303">LONRF2</text></g>
</g>

<!-- PANEL C -->
<text class="pl" x="103" y="341" style="font-weight:bold;font-size:11px">c</text>
<g id="edges-c">
<line class="ec" x1="223" y1="339" x2="183" y2="377"/><line class="ec" x1="223" y1="339" x2="237" y2="379"/>
<line class="ec" x1="314" y1="338" x2="277" y2="380"/><line class="ec" x1="314" y1="338" x2="328" y2="381"/><line class="ec" x1="314" y1="338" x2="375" y2="383"/>
<line class="ec" x1="183" y1="377" x2="127" y2="439"/><line class="ec" x1="183" y1="377" x2="215" y2="440"/>
<line class="ec" x1="237" y1="379" x2="127" y2="439"/><line class="ec" x1="237" y1="379" x2="170" y2="439"/><line class="ec" x1="237" y1="379" x2="261" y2="440"/><line class="ec" x1="237" y1="379" x2="381" y2="439"/>
<line class="ec" x1="277" y1="380" x2="170" y2="439"/><line class="ec" x1="277" y1="380" x2="215" y2="440"/><line class="ec" x1="277" y1="380" x2="344" y2="439"/>
<line class="ec" x1="328" y1="381" x2="215" y2="440"/><line class="ec" x1="328" y1="381" x2="261" y2="440"/><line class="ec" x1="328" y1="381" x2="344" y2="439"/><line class="ec" x1="328" y1="381" x2="381" y2="439"/><line class="ec" x1="328" y1="381" x2="421" y2="439"/>
<line class="ec" x1="375" y1="383" x2="303" y2="439"/><line class="ec" x1="375" y1="383" x2="381" y2="439"/><line class="ec" x1="375" y1="383" x2="421" y2="439"/>
</g>
<g id="nodes-c">
<g id="c-circ3972"><use href="#dC" x="223" y="339" fill="#f5c224"/><text class="lc" x="222" y="339">hsa_circ_0003972</text></g>
<g id="c-circ7288"><use href="#dC" x="314" y="338" fill="#f5c224"/><text class="lc" x="313" y="338">hsa_circ_0007288</text></g>
<g id="c-miR153"><use href="#vC" x="183" y="377" fill="#e8502a"/><text class="lc" x="183" y="378">hsa-miR-153-5p.1</text></g>
<g id="c-miR1825"><use href="#vC" x="237" y="379" fill="#e02222"/><text class="lc" x="237" y="379">hsa-miR-1825</text></g>
<g id="c-miR421"><use href="#vC" x="277" y="380" fill="#ef8b25"/><text class="lc" x="280" y="381">hsa-miR-421</text></g>
<g id="c-miR936"><use href="#vC" x="328" y="381" fill="#d81e1e"/><text class="lc" x="328" y="382">hsa-miR-936</text></g>
<g id="c-miR1228"><use href="#vC" x="375" y="383" fill="#f07e22"/><text class="lc" x="375" y="384">hsa-miR-1228-3p</text></g>
<g id="c-MAPK4"><circle class="nc" cx="127" cy="439" r="7.5"/><text class="lc" x="127" y="439">MAPK4</text></g>
<g id="c-NCAM1"><circle class="nc" cx="170" cy="439" r="7.5"/><text class="lc" x="170" y="439">NCAM1</text></g>
<g id="c-RORA"><circle cx="215" cy="440" r="7.5" fill="#f0a81c"/><text class="lc" x="215" y="440">RORA</text></g>
<g id="c-ADAMTS5"><circle class="nc" cx="261" cy="440" r="7.5"/><text class="lc" x="261" y="440">ADAMTS5</text></g>
<g id="c-CEP85L"><circle class="nc" cx="303" cy="439" r="7.5"/><text class="lc" x="303" y="439">CEP85L</text></g>
<g id="c-BEND4"><circle class="nc" cx="344" cy="439" r="7.5"/><text class="lc" x="344" y="439">BEND4</text></g>
<g id="c-ASXL3"><circle class="nc" cx="381" cy="439" r="7.5"/><text class="lc" x="381" y="439">ASXL3</text></g>
<g id="c-TMOD2"><circle class="nc" cx="421" cy="439" r="7.5"/><text class="lc" x="421" y="439">TMOD2</text></g>
</g>
</svg>
